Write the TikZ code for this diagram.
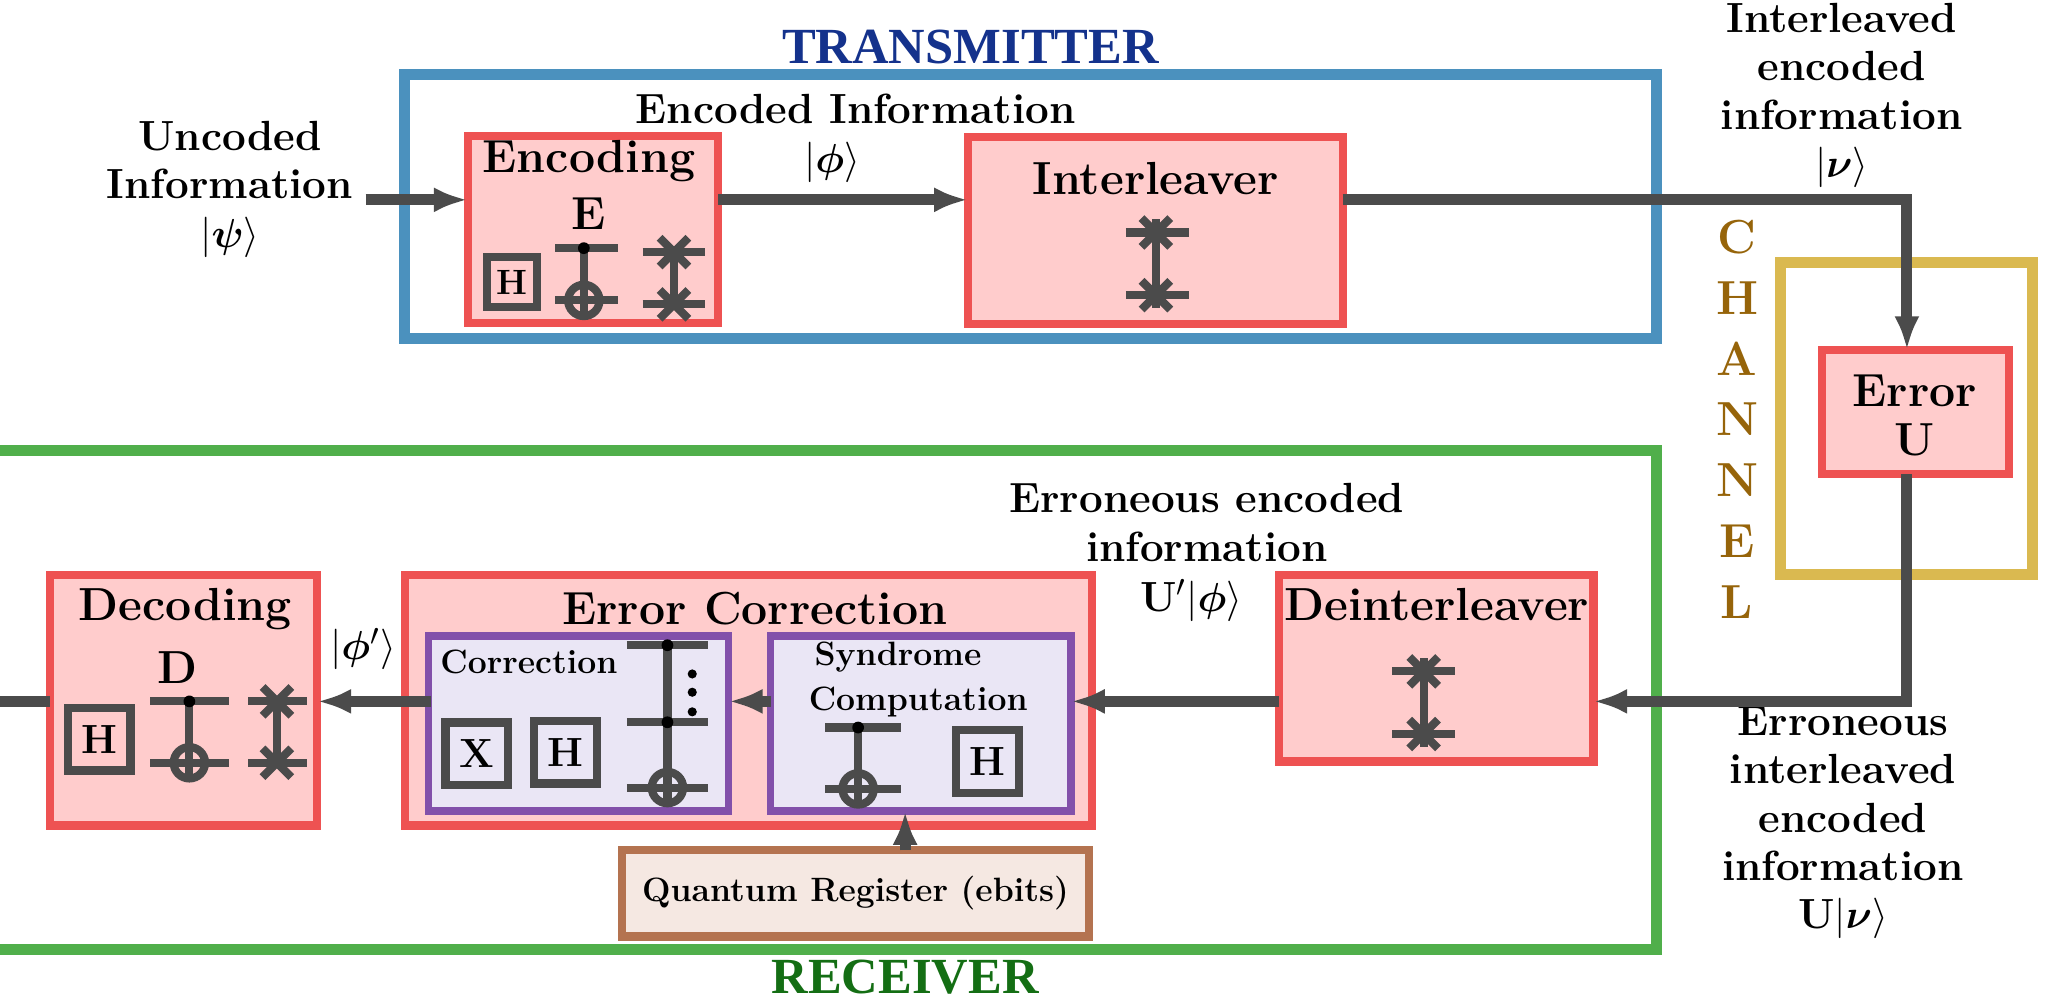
\documentclass[tikz,border=0pt]{standalone}
\usepackage{amsmath,amssymb,bm}
\usepackage{fontspec}
\newfontfamily\tms{Liberation Serif}
\usetikzlibrary{arrows.meta}
\definecolor{pinkf}{RGB}{255,204,204}
\definecolor{reds}{RGB}{238,82,82}
\definecolor{lavf}{RGB}{234,230,245}
\definecolor{purs}{RGB}{130,80,170}
\definecolor{blues}{RGB}{75,145,190}
\definecolor{greens}{RGB}{80,175,75}
\definecolor{yels}{RGB}{218,185,80}
\definecolor{gry}{RGB}{75,75,75}
\definecolor{qrf}{RGB}{245,232,226}
\definecolor{qrs}{RGB}{180,115,80}
\definecolor{tblue}{RGB}{20,50,140}
\definecolor{tgreen}{RGB}{20,110,20}
\definecolor{tgold}{RGB}{150,100,10}
\begin{document}
\begin{tikzpicture}[x=0.01633cm,y=-0.01633cm,
 blk/.style={draw=reds,fill=pinkf,line width=2.9pt},
 sub/.style={draw=purs,fill=lavf,line width=2.6pt},
 frame/.style={line width=3.9pt},
 arr/.style={draw=gry,line width=3.9pt,-{Latex[length=12pt,width=9pt]}},
 ln/.style={draw=gry,line width=2.9pt},
 gate/.style={draw=gry,line width=2.9pt,minimum size=0.78cm,inner sep=0pt,font=\fontsize{14.5}{16}\selectfont\bfseries},
 big/.style={font=\fontsize{16.5}{18}\selectfont\bfseries,align=center},
 sm/.style={font=\fontsize{12}{14}\selectfont\bfseries,align=center},
 lab/.style={font=\fontsize{15}{17.2}\selectfont\bfseries,align=center,inner sep=0pt}]
\useasboundingbox (0,0) rectangle (1568,768);
% frames
\draw[frame,draw=blues] (310,57) rectangle (1268,259);
\draw[frame,draw=greens] (-5,345) rectangle (1268,727);
\draw[frame,draw=yels] (1363,201) rectangle (1556,440);
\node[font=\tms\fontsize{18}{20}\selectfont\bfseries,text=tblue] (tx) at (743,36) {TRANSMITTER};
\node[font=\tms\fontsize{18}{20}\selectfont\bfseries,text=tgreen] (rx) at (693,748) {RECEIVER};
\node[font=\fontsize{17}{21.6}\selectfont\bfseries,text=tgold,align=center] (ch) at (1330,321) {C\\H\\A\\N\\N\\E\\L};
% blocks
\draw[blk] (358,104) rectangle (550,247);
\draw[blk] (741,105) rectangle (1028,248);
\draw[blk] (1395,268) rectangle (1538,363);
\draw[blk] (38,440) rectangle (243,632);
\draw[blk] (310,440) rectangle (836,632);
\draw[blk] (979,440) rectangle (1220,583);
\draw[sub] (328,487) rectangle (558,621);
\draw[sub] (590,487) rectangle (820,621);
\draw[draw=qrs,fill=qrf,line width=2.9pt] (476,651) rectangle (834,717);
\node[sm] (qr) at (655,684) {Quantum Register (ebits)};
% titles
\node[big] (enc) at (451,123) {Encoding};
\node[big] at (451,164) {E};
\node[big] (il) at (885,137) {Interleaver};
\node[big] at (1466,299) {Error};
\node[big] at (1466,337) {U};
\node[big] at (142,466) {Decoding};
\node[big] at (136,511) {D};
\node[big] at (578,466) {Error Correction};
\node[big] at (1100,463) {Deinterleaver};
\node[sm,font=\fontsize{12}{14}\selectfont\bfseries] at (405,507) {Correction};
\node[sm,font=\fontsize{12}{16}\selectfont\bfseries] at (703,520) {\hspace*{-1.2em}Syndrome\\Computation};
% external labels
\node[lab] (unc) at (176,145) {Uncoded\\Information\\$|\bm\psi\rangle$};
\node[lab] at (655,83) {Encoded Information};
\node[lab] at (637,124) {$|\bm\phi\rangle$};
\node[lab] at (1410,73) {Interleaved\\encoded\\information\\$|\bm\nu\rangle$};
\node[lab] at (924,400) {Erroneous encoded\\information};
\node[lab] at (912,460) {U$'|\bm\phi\rangle$};
\node[lab] at (278,497) {$|\bm\phi'\rangle$};
\node[lab] at (1411,630) {Erroneous\\interleaved\\encoded\\information\\U$|\bm\nu\rangle$};
% arrows
\draw[arr] (280,153) -- (358,153);
\draw[arr] (550,153) -- (741,153);
\draw[arr] (1028,153) -- (1460,153) -- (1460,268);
\draw[arr] (1460,363) -- (1460,537) -- (1220,537);
\draw[arr] (979,537) -- (820,537);
\draw[arr] (590,537) -- (558,537);
\draw[arr] (330,537) -- (243,537);
\draw[ln,line width=3.9pt] (38,537) -- (0,537);
\draw[arr] (693,651) -- (693,621);
% encoding gates
\node[gate,minimum size=0.62cm,font=\fontsize{12.5}{13}\selectfont\bfseries] (h1) at (392,216) {H};
\draw[ln] (425,190) -- (473,190) (425,230) -- (473,230) (447,190) -- (447,242);
\fill (447,190) circle (4.5); \draw[ln] (447,230) circle (12);
\draw[ln] (492,193) -- (540,193) (492,233) -- (540,233) (516,193) -- (516,233);
\foreach \y in {193,233} \draw[ln] (505,\y-11) -- (527,\y+11) (505,\y+11) -- (527,\y-11);
% interleaver
\draw[ln] (862,178) -- (910,178) (862,226) -- (910,226) (885,168) -- (885,236);
\foreach \y in {178,226} \draw[ln] (874,\y-11) -- (896,\y+11) (874,\y+11) -- (896,\y-11);
% deinterleaver
\draw[ln] (1066,514) -- (1114,514) (1066,562) -- (1114,562) (1090,504) -- (1090,572);
\foreach \y in {514,562} \draw[ln] (1079,\y-11) -- (1101,\y+11) (1079,\y+11) -- (1101,\y-11);
% decoding gates
\node[gate] at (76,566) {H};
\draw[ln] (115,537) -- (175,537) (115,584) -- (175,584) (145,537) -- (145,596);
\fill (145,537) circle (4.5); \draw[ln] (145,584) circle (12);
\draw[ln] (190,537) -- (235,537) (190,584) -- (235,584) (212,537) -- (212,584);
\foreach \y in {537,584} \draw[ln] (201,\y-11) -- (223,\y+11) (201,\y+11) -- (223,\y-11);
% correction gates
\node[gate] at (365,577) {X};
\node[gate] at (433,576) {H};
\draw[ln] (480,494) -- (542,494) (480,553) -- (542,553) (480,603) -- (542,603) (511,494) -- (511,615);
\fill (511,494) circle (4.5) (511,553) circle (4.5);
\draw[ln] (511,603) circle (12);
\foreach \y in {516,530,545} \fill (530,\y) circle (3.5);
% syndrome gates
\draw[ln] (632,557) -- (690,557) (632,604) -- (690,604) (657,557) -- (657,616);
\fill (657,557) circle (4.5); \draw[ln] (657,604) circle (12);
\node[gate] at (756,583) {H};
\end{tikzpicture}
\end{document}
